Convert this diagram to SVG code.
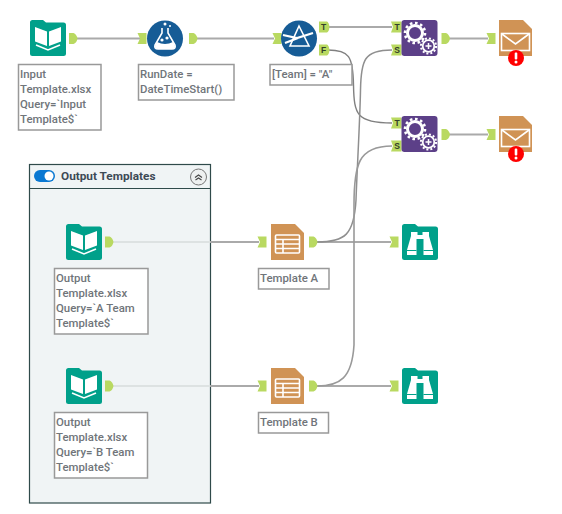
<svg xmlns="http://www.w3.org/2000/svg" width="562" height="514" viewBox="0 0 562 514">
<style>
.lbl{fill:#fff;stroke:#999;stroke-width:1.5}
.t{font-family:Roboto,"Liberation Sans",sans-serif;font-size:11.4px;font-weight:500;fill:#70757a}
.ttl{font-family:Roboto,"Liberation Sans",sans-serif;font-size:11.8px;font-weight:700;fill:#3d4a55}
.a{fill:#b9d961}
.al{font-family:"Liberation Sans",sans-serif;font-size:8.500px;font-weight:700;fill:#33402a;text-anchor:middle}
.st{fill:none;stroke:#aaa;stroke-width:2.200}
.cv{fill:none;stroke:#808080;stroke-width:1.400}
.w{fill:none;stroke:#fff;stroke-width:1.600}
.wf{fill:#fff}
</style>
<defs>
<path id="ain" class="a" d="M-0.500 -5.500H8.500V5.500H-0.500L2 0Z"/>
<path id="aout" class="a" d="M0 -5.500H4.500Q7.500 -4.500 8.500 0Q7.500 4.500 4.500 5.500H0Z"/>
<path id="ainl" class="a" d="M0 -5.500H10.500V5.500H0L2 0Z"/>
<path id="aoutl" class="a" d="M0 -5.500H8Q10 -4.500 10.500 0Q10 4.500 8 5.500H0Z"/>
<g id="book">
<path d="M0 2.500Q0 0 2.500 0H13L16 2.500H33.500Q36 2.500 36 5V33.500Q36 36 33.500 36H2.500Q0 36 0 33.500Z" fill="#00a08a"/>
<path class="wf" d="M5 7L17 11.500V26L5 21.500Z M19 11.500L31 7V21.500L19 26Z"/>
<path class="w" d="M6 25L18 30L30 25"/>
</g>
<g id="bino">
<path d="M0 2.500Q0 0 2.500 0H13L16 2.500H33.500Q36 2.500 36 5V33.500Q36 36 33.500 36H2.500Q0 36 0 33.500Z" fill="#00a08a"/>
<path class="wf" d="M9 8H15.500V11H20.500V8H27V12L31 26V31H21.500V15H14.500V31H5V26L9 12Z"/>
<path d="M5 26.500H14.500M21.500 26.500H31" stroke="#00a08a" stroke-width="1.200"/>
</g>
<g id="sheet">
<path d="M0 0H24L33 9V36H0Z" fill="#d09355"/>
<rect class="w" x="4.500" y="11" width="24" height="18" rx="1"/>
<path class="w" d="M5 15.500H28M5 20H28M5 24.500H28M12 15.500V29" stroke-width="1.300"/>
</g>
<g id="mail">
<path d="M0 0H24L33 9V36H0Z" fill="#d09355"/>
<rect class="w" x="2.500" y="13.500" width="28" height="17"/>
<path class="w" d="M3 14L16.500 24L30 14"/>
<circle cx="17" cy="38" r="8" fill="#f00"/>
<rect x="15.700" y="32.500" width="2.600" height="7" rx="1" fill="#fff"/>
<circle cx="17" cy="42" r="1.500" fill="#fff"/>
</g>
<g id="gear-b">
<circle cx="13.500" cy="13" r="7.500" fill="none" stroke="#fff" stroke-width="3"/>
<circle cx="13.500" cy="13" r="10" fill="none" stroke="#fff" stroke-width="2.600" stroke-dasharray="2.600 2.600"/>
<circle cx="27" cy="26" r="5.800" fill="none" stroke="#fff" stroke-width="1.800"/>
<circle cx="27" cy="26" r="7.600" fill="none" stroke="#fff" stroke-width="2" stroke-dasharray="2 2"/>
<path d="M24 26H30M27 23V29" stroke="#fff" stroke-width="1.500"/>
</g>
<g id="join">
<rect width="36" height="36" rx="3" fill="#5c4088"/>
<use href="#gear-b"/>
</g>
</defs>

<rect id="container-bg" x="29.500" y="164.500" width="181" height="338.500" fill="#f0f4f5" stroke="#2f4a4a" stroke-width="1.200"/>

<g id="connectors">
<path class="st" d="M77 38.500H140M197 38.500H274"/>
<path class="st" d="M329 27H392M449 38.500H488M449 134.500H488"/>
<path d="M113 242H210M113 386H210" fill="none" stroke="#dde2e2" stroke-width="2"/>
<path class="st" d="M210 242H259M210 386H259M317 242H391M317 386H391"/>
<path class="cv" d="M328 50C349 50 353 56 353.500 85C354 115 357 123 392 123"/>
<path fill="none" stroke="#8f8f8f" stroke-width="1.500" d="M317 242C345 242 354 235 356 200C357 170 360 120 360.500 90C361 60 364 50 392 50"/>
<path fill="none" stroke="#999" stroke-width="1.600" d="M317 386C340 386 352 378 354 345V205C354 165 358 146 392 146"/>
</g>

<g id="node-input">
<use href="#book" x="30" y="20"/>
<use href="#aout" x="69" y="38.500"/>
<rect class="lbl" x="18.500" y="64.500" width="82.500" height="65.500"/>
<text class="t" x="20" y="78">Input</text>
<text class="t" x="20" y="93">Template.xlsx</text>
<text class="t" x="20" y="108">Query=`Input</text>
<text class="t" x="20" y="123">Template$`</text>
</g>
<g id="node-formula">
<use href="#ain" x="138" y="38.500"/>
<circle cx="165" cy="38.500" r="18" fill="#165c96"/>
<path class="w" stroke-width="2" d="M162 28V33L155 45Q154 49 158 49H172Q176 49 175 45L168 33V28"/>
<path class="wf" d="M157 42Q165 46 173 42L175 46Q175 49 172 49H158Q155 49 155 46Z"/>
<circle cx="167" cy="38" r="1.600" class="wf"/>
<circle cx="162" cy="40" r="1.600" class="wf"/>
<circle cx="165" cy="24" r="1.500" class="wf"/>
<circle cx="170" cy="26" r="1" class="wf"/>
<use href="#aout" x="189" y="38.500"/>
<rect class="lbl" x="138.500" y="64.500" width="95.500" height="35.500"/>
<text class="t" x="140" y="78">RunDate =</text>
<text class="t" x="140" y="93">DateTimeStart()</text>
</g>
<g id="node-filter">
<use href="#ain" x="273" y="38.500"/>
<circle cx="299" cy="38.500" r="18" fill="#165c96"/>
<path class="w" stroke-width="2.500" d="M299 26L290 46H309Z"/>
<path d="M283 35L297 38L313 33M298 38L285 43" fill="none" stroke="#fff" stroke-width="2.200"/>
<use href="#aoutl" x="319" y="27"/>
<text class="al" x="323.500" y="30">T</text>
<use href="#aoutl" x="319" y="50"/>
<text class="al" x="323.500" y="53">F</text>
<rect class="lbl" x="270" y="64.500" width="82" height="20.500"/>
<text class="t" x="272" y="78">[Team] = "A"</text>
</g>
<g id="node-join1">
<use href="#ainl" x="391" y="27"/>
<text class="al" x="397" y="30">T</text>
<use href="#ainl" x="391" y="50"/>
<text class="al" x="397" y="53">S</text>
<use href="#join" x="401.500" y="20"/>
<use href="#aout" x="441.500" y="38.500"/>
</g>
<g id="node-join2">
<use href="#ainl" x="391" y="123"/>
<text class="al" x="397" y="126">T</text>
<use href="#ainl" x="391" y="146"/>
<text class="al" x="397" y="149">S</text>
<use href="#join" x="401.500" y="116"/>
<use href="#aout" x="441.500" y="134.500"/>
</g>
<g id="node-email1">
<use href="#ain" x="487" y="38.500"/>
<use href="#mail" x="499" y="20"/>
</g>
<g id="node-email2">
<use href="#ain" x="487" y="134.500"/>
<use href="#mail" x="499" y="116"/>
</g>

<g id="container-output-templates">
<line x1="29.500" y1="188.500" x2="210.500" y2="188.500" stroke="#2f4a4a" stroke-width="1.200"/>
<rect x="34" y="170" width="21" height="12" rx="6" fill="#0a78d2"/>
<circle cx="49" cy="176" r="4.500" fill="#fff"/>
<text class="ttl" x="61" y="180">Output Templates</text>
<circle cx="198.500" cy="177" r="8" fill="#eef0f0" stroke="#777" stroke-width="1"/>
<path d="M195 177.500L198.500 175L202 177.500M195.500 180L198.500 178L201.500 180" fill="none" stroke="#444" stroke-width="1.100"/>
</g>

<g id="node-output-a">
<use href="#book" x="66" y="224"/>
<use href="#aout" x="105" y="242"/>
<rect class="lbl" x="54.500" y="268.500" width="93.500" height="65.500"/>
<text class="t" x="56" y="282">Output</text>
<text class="t" x="56" y="297">Template.xlsx</text>
<text class="t" x="56" y="312">Query=`A Team</text>
<text class="t" x="56" y="327">Template$`</text>
</g>
<g id="node-output-b">
<use href="#book" x="66" y="368"/>
<use href="#aout" x="105" y="386"/>
<rect class="lbl" x="54.500" y="412.500" width="93" height="65.500"/>
<text class="t" x="56" y="426">Output</text>
<text class="t" x="56" y="441">Template.xlsx</text>
<text class="t" x="56" y="456">Query=`B Team</text>
<text class="t" x="56" y="471">Template$`</text>
</g>
<g id="node-template-a">
<use href="#ain" x="258" y="242"/>
<use href="#sheet" x="271" y="224"/>
<use href="#aout" x="309" y="242"/>
<rect class="lbl" x="258.500" y="268.500" width="70.500" height="20.500"/>
<text class="t" x="260" y="282">Template A</text>
</g>
<g id="node-template-b">
<use href="#ain" x="258" y="386"/>
<use href="#sheet" x="271" y="368"/>
<use href="#aout" x="309" y="386"/>
<rect class="lbl" x="258.500" y="412.500" width="70" height="20.500"/>
<text class="t" x="260" y="426">Template B</text>
</g>
<g id="node-browse-a">
<use href="#ain" x="390" y="242"/>
<use href="#bino" x="402" y="224"/>
</g>
<g id="node-browse-b">
<use href="#ain" x="390" y="386"/>
<use href="#bino" x="402" y="368"/>
</g>
</svg>
